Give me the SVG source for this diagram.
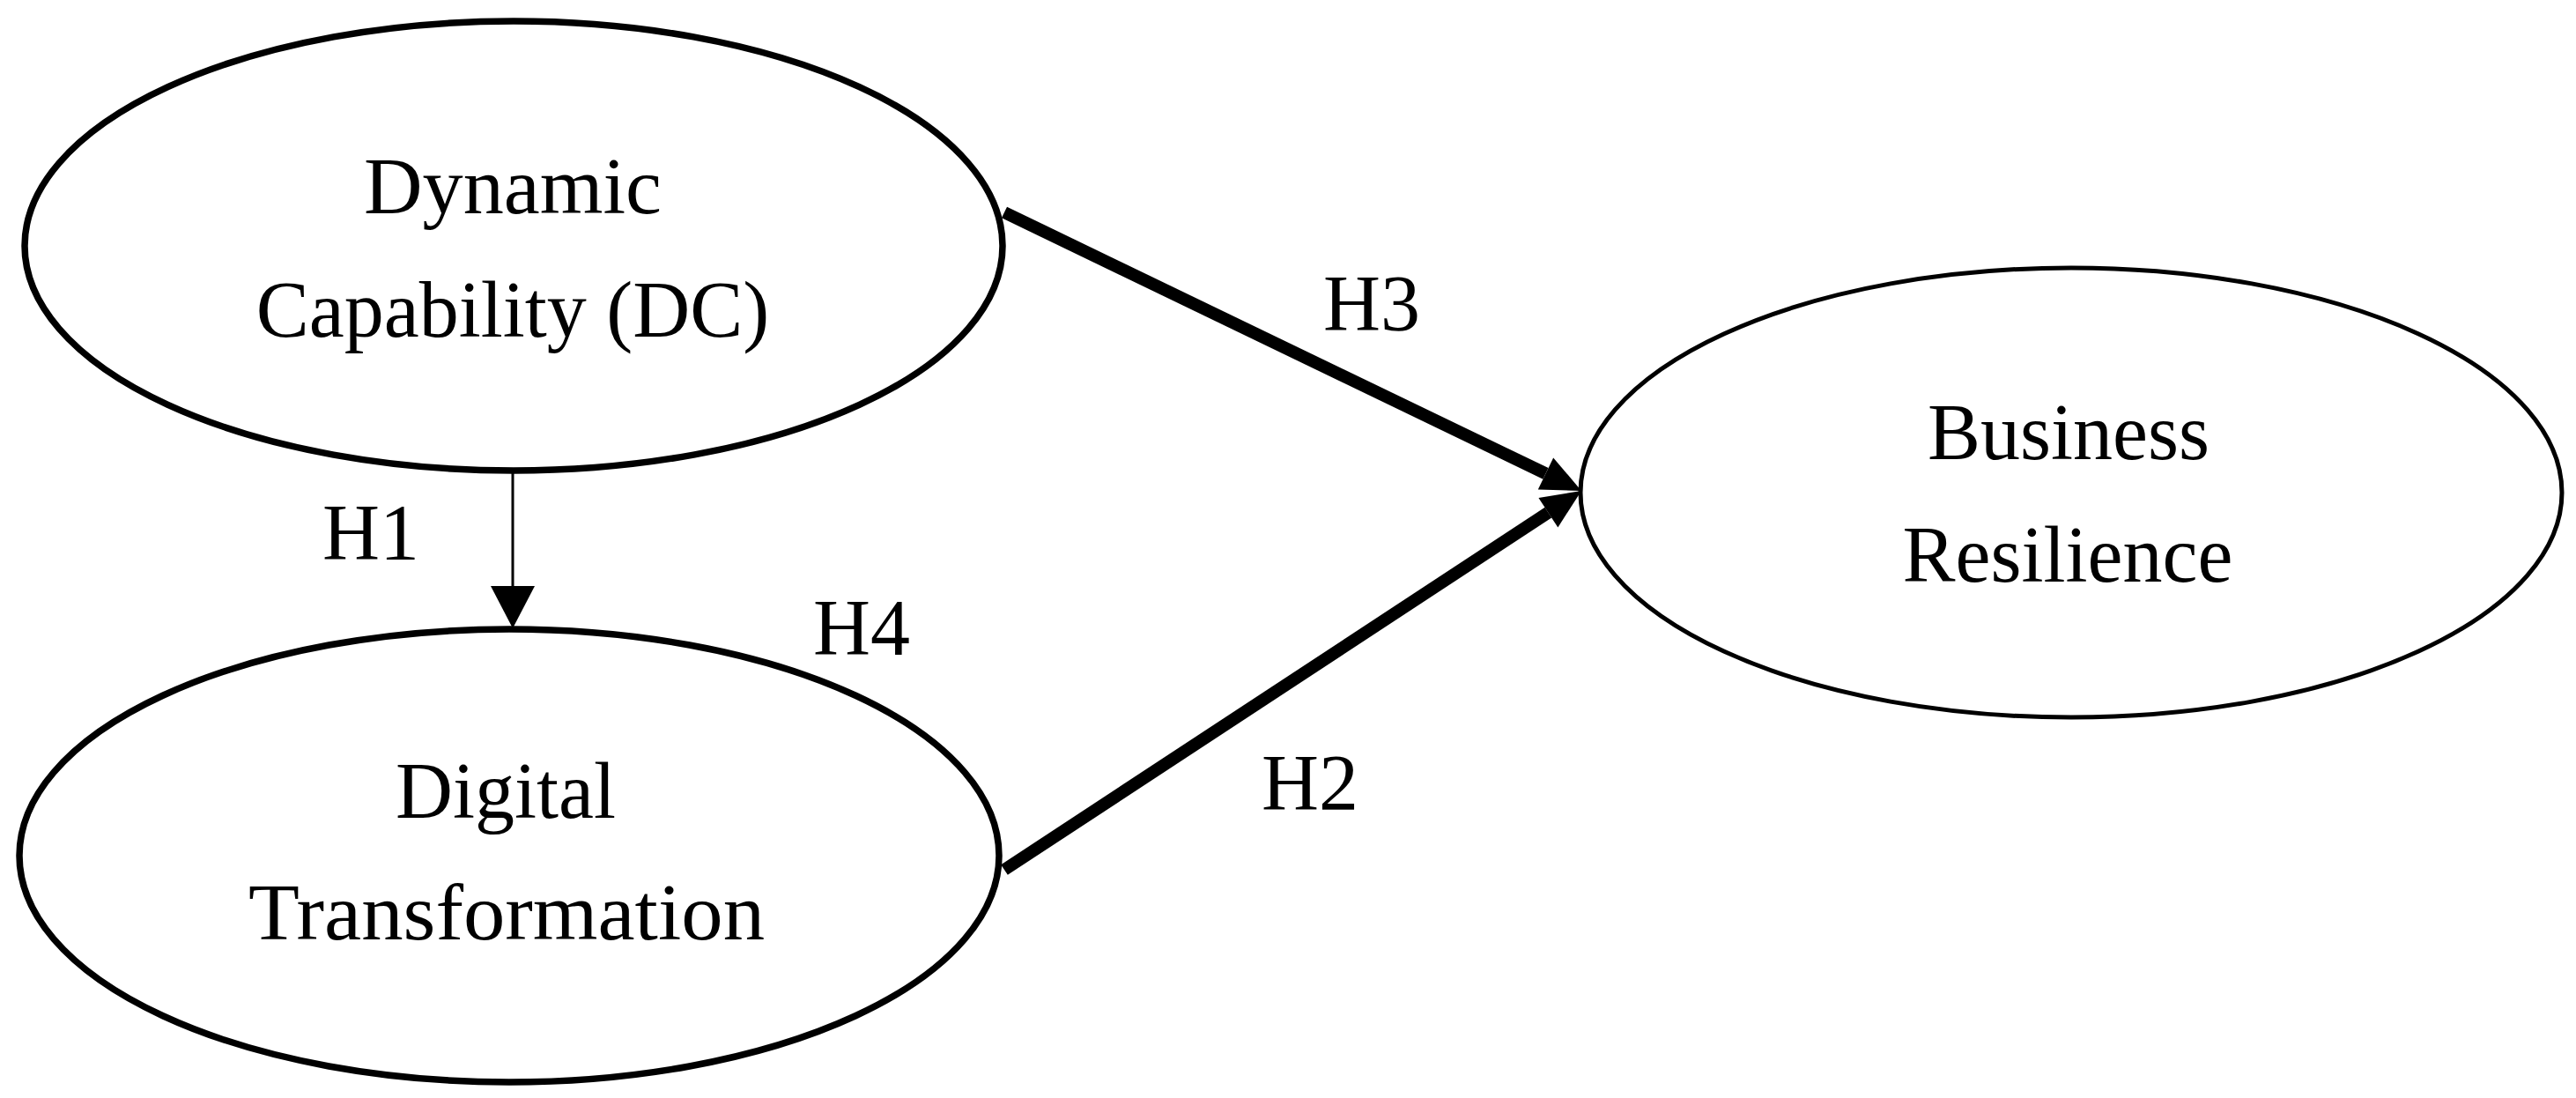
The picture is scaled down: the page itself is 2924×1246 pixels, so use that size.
<svg xmlns="http://www.w3.org/2000/svg" width="2924" height="1246" viewBox="0 0 2924 1246">
<style>
.node{fill:#fff;stroke:#000}
.lbl{font-family:"Liberation Serif","Times New Roman",serif;font-size:90px;fill:#000}
.c{text-anchor:middle}
.thick{stroke:#000;stroke-width:14;fill:none}
.thin{stroke:#000;stroke-width:3;fill:none}
</style>
<defs>
<marker id="headThick" markerUnits="userSpaceOnUse" markerWidth="46" markerHeight="42" refX="0" refY="20" orient="auto" overflow="visible">
<path d="M0,0 L45,20 L0,40 Z" fill="#000"/>
</marker>
<marker id="headThin" markerUnits="userSpaceOnUse" markerWidth="50" markerHeight="52" refX="0" refY="25" orient="auto" overflow="visible">
<path d="M0,0 L48,25 L0,50 Z" fill="#000"/>
</marker>
</defs>
<rect width="2924" height="1246" fill="#fff"/>
<g id="node-dc">
<ellipse class="node" cx="583" cy="279" rx="555" ry="255" stroke-width="7.5"/>
<text class="lbl c" x="582" y="242" textLength="338" lengthAdjust="spacingAndGlyphs">Dynamic</text>
<text class="lbl c" x="582" y="382">Capability (DC)</text>
</g>
<g id="node-dt">
<ellipse class="node" cx="578" cy="971" rx="556" ry="257" stroke-width="7.5"/>
<text class="lbl c" x="574" y="928">Digital</text>
<text class="lbl c" x="575" y="1066" textLength="586" lengthAdjust="spacingAndGlyphs">Transformation</text>
</g>
<g id="node-br">
<ellipse class="node" cx="2351" cy="559" rx="557" ry="255" stroke-width="5"/>
<text class="lbl c" x="2348" y="521">Business</text>
<text class="lbl c" x="2347" y="660">Resilience</text>
</g>
<g id="connectors">
<line class="thin" x1="582" y1="533" x2="582" y2="665" marker-end="url(#headThin)"/>
<line class="thick" x1="1140" y1="241" x2="1754.5" y2="537.4" marker-end="url(#headThick)"/>
<line class="thick" x1="1140" y1="987" x2="1757.4" y2="581.7" marker-end="url(#headThick)"/>
</g>
<g id="labels">
<text class="lbl" x="366" y="635">H1</text>
<text class="lbl" x="1432" y="919">H2</text>
<text class="lbl" x="1502" y="375">H3</text>
<text class="lbl" x="923" y="743">H4</text>
</g>
</svg>
